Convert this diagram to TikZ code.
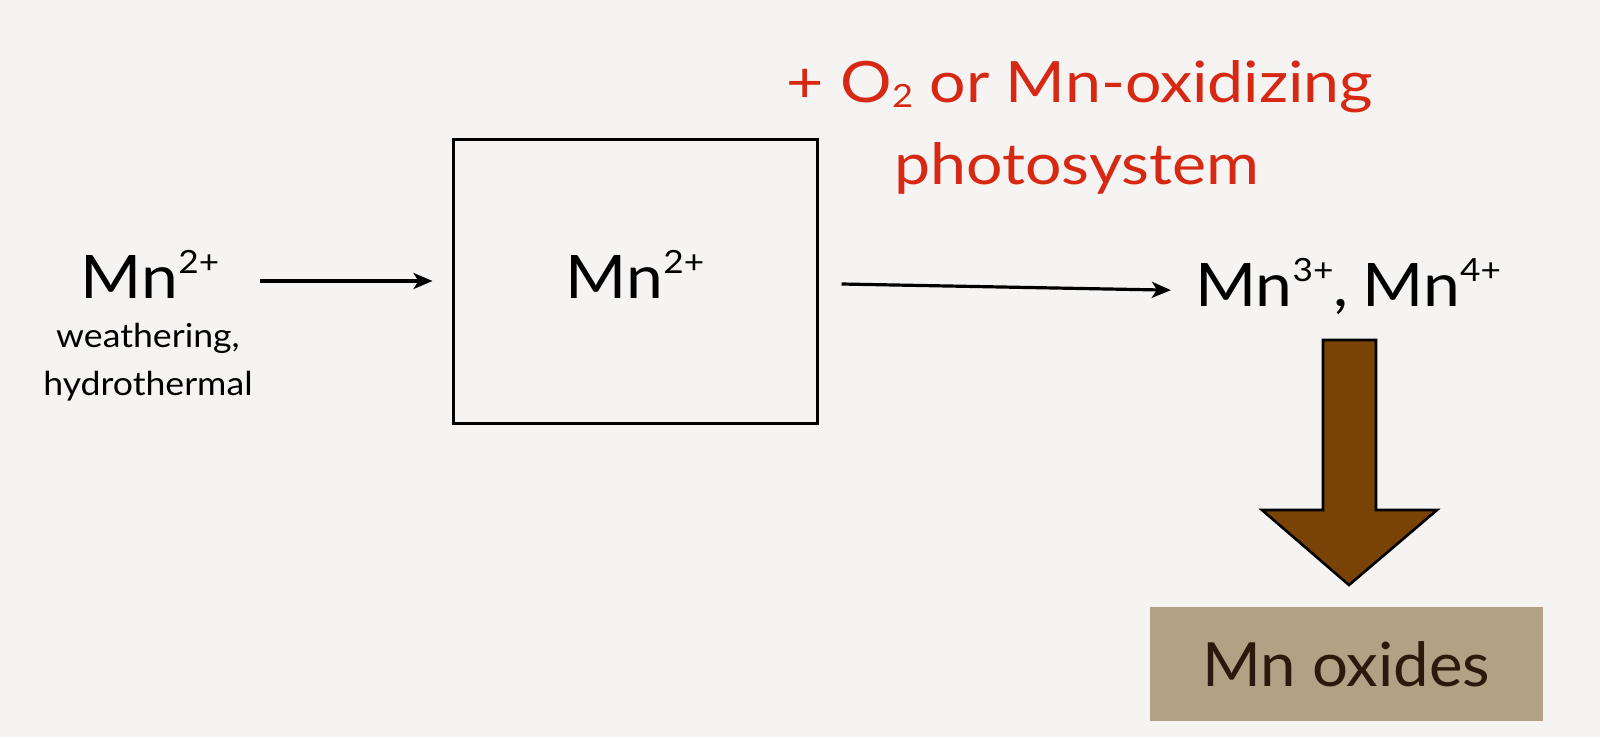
\documentclass[tikz,border=0pt]{standalone}
\usepackage{fontspec}
\setmainfont{Lato}
\newfontfamily\bigfont[FakeStretch=1.1]{Lato}
\newfontfamily\redfont[FakeStretch=1.13]{Lato}
\newfontfamily\smallfont[FakeStretch=1.08]{Lato}
\newfontfamily\oxfont[FakeStretch=1.04]{Lato}
\usetikzlibrary{arrows.meta}
\definecolor{bg}{RGB}{245,244,243}
\definecolor{redtxt}{RGB}{214,40,18}
\definecolor{brownfill}{RGB}{122,67,6}
\definecolor{oxfill}{RGB}{179,161,134}
\definecolor{oxtext}{RGB}{43,26,12}
\newcommand\supbig[1]{\raisebox{0.41em}{\fontsize{32}{32}\selectfont #1}}
\newcommand\subred[1]{\raisebox{-0.1em}{\fontsize{32}{32}\selectfont #1}}
\tikzset{
  bigtxt/.style={font=\bigfont\fontsize{60}{62}\selectfont, inner sep=0pt, text=black},
  smalltxt/.style={font=\smallfont\fontsize{33}{35}\selectfont, inner sep=0pt, text=black},
  redlabel/.style={font=\redfont\fontsize{57}{60}\selectfont, inner sep=0pt, text=redtxt},
  flowarrow/.style={line width=3.2pt, -{Stealth[length=19pt,width=16pt,inset=5pt]}},
  poolbox/.style={draw=black, line width=3pt, minimum width=364pt, minimum height=284pt, inner sep=0pt},
  oxbox/.style={fill=oxfill, minimum width=393pt, minimum height=114pt, inner sep=0pt, text=oxtext, font=\oxfont\fontsize{61}{63}\selectfont},
  bigarrow/.style={fill=brownfill, draw=black, line width=2.6pt, line join=miter}
}
\begin{document}
\begin{tikzpicture}[x=1pt,y=-1pt]
\fill[bg] (0,0) rectangle (1600,737);
\useasboundingbox (0,0) rectangle (1600,737);

\node[bigtxt, anchor=base] (src) at (150,298) {Mn\supbig{2+}};
\node[smalltxt, anchor=base] (w1) at (148,347) {weathering,};
\node[smalltxt, anchor=base] (w2) at (148,395) {hydrothermal};

\node[poolbox] (box) at (635,281) {};
\node[bigtxt, anchor=base] (inner) at (635,298) {Mn\supbig{2+}};

\node[bigtxt, anchor=base] (dst) at (1348,306) {Mn\supbig{3+},\hspace{14pt}Mn\supbig{4+}};

\node[redlabel, anchor=base] (red1) at (1080,102) {+ O\subred{2} or Mn-oxidizing};
\node[redlabel, anchor=base] (red2) at (1077,184) {photosystem};

\draw[flowarrow, shorten <=41pt, shorten >=19pt] (src.east |- box.west) -- (box.west);
\draw[flowarrow] ([shift={(23,3)}]box.east) -- ([shift={(-24,4)}]dst.west);

\coordinate (s1) at (1323,340);
\coordinate (s2) at (1376,340);
\coordinate (h1) at (1437,510);
\coordinate (tip) at (1349,585);
\coordinate (h2) at (1262,510);
\draw[bigarrow] (s1) -- (s2) -- (s2 |- h1) -- (h1) -- (tip) -- (h2) -- (s1 |- h2) -- cycle;

\node[oxbox] (ox) at (1346,664) {Mn oxides};
\end{tikzpicture}
\end{document}
